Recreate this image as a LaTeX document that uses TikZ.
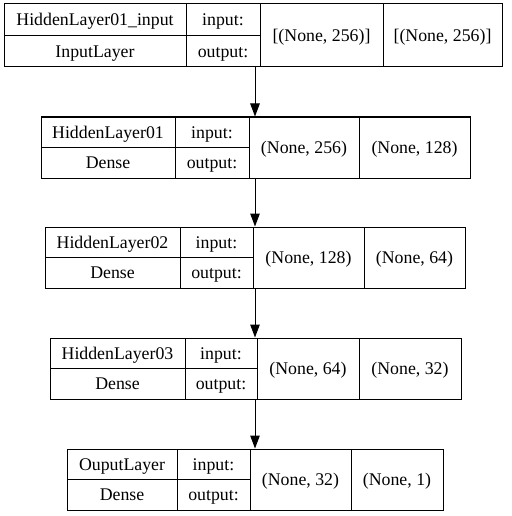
\documentclass[tikz,border=0pt]{standalone}
\usepackage{fontspec}
\setmainfont{Liberation Serif}
\newfontfamily\tnrfont{Liberation Serif}
\usetikzlibrary{arrows.meta,fit}
\begin{document}
\begin{tikzpicture}[x=1pt,y=-1pt,
  frame/.style={draw=black, line width=1pt, inner sep=0pt},
  cell/.style={draw=black, line width=1pt},
  lbl/.style={anchor=base, inner sep=0pt, font=\tnrfont\fontsize{17.8}{20}\selectfont},
  arr/.style={draw=black, line width=1pt, -{Triangle[length=13pt,width=9.5pt]}}]
\fill[white] (0,0) rectangle (511,516);
\useasboundingbox (0,0) rectangle (511,516);
\foreach \n/\a/\b/\c/\d/\e/\t/\bt/\nm/\ty/\i/\o in {
 L1/4/186/260/383/502/4/67/HiddenLayer01\_input/InputLayer/{[(None, 256)]}/{[(None, 256)]},
 L2/41/175/249/359/470/117/178/HiddenLayer01/Dense/{(None, 256)}/{(None, 128)},
 L3/45/180/253/364/465/227/288/HiddenLayer02/Dense/{(None, 128)}/{(None, 64)},
 L4/50/185/257/359/461/338/399/HiddenLayer03/Dense/{(None, 64)}/{(None, 32)},
 L5/67/177/250/351/443/449/510/OuputLayer/Dense/{(None, 32)}/{(None, 1)}}
{
  \pgfmathsetmacro\m{(\t+\bt)/2}
  \coordinate (\n-nw) at (\a,\t);
  \coordinate (\n-se) at (\e,\bt);
  \node[frame, fit=(\n-nw)(\n-se)] (\n) {};
  \draw[cell] (\b,\t) -- (\b,\bt) (\c,\t) -- (\c,\bt) (\d,\t) -- (\d,\bt) (\a,\m) -- (\c,\m);
  \node[lbl] (\n-name) at ({(\a+\b)/2},{(\t+\m)/2+6}) {\nm};
  \node[lbl] (\n-type) at ({(\a+\b)/2},{(\m+\bt)/2+6}) {\ty};
  \node[lbl] (\n-il) at ({(\b+\c)/2},{(\t+\m)/2+6}) {input:};
  \node[lbl] (\n-ol) at ({(\b+\c)/2},{(\m+\bt)/2+6}) {output:};
  \node[lbl] (\n-in) at ({(\c+\d)/2},{\m+6}) {\i};
  \node[lbl] (\n-out) at ({(\d+\e)/2},{\m+6}) {\o};
}
\coordinate (ax) at (255,0);
\foreach \p/\q in {L1/L2,L2/L3,L3/L4,L4/L5}
  \draw[arr] (\p.south -| ax) -- (\q.north -| ax);
\end{tikzpicture}
\end{document}
